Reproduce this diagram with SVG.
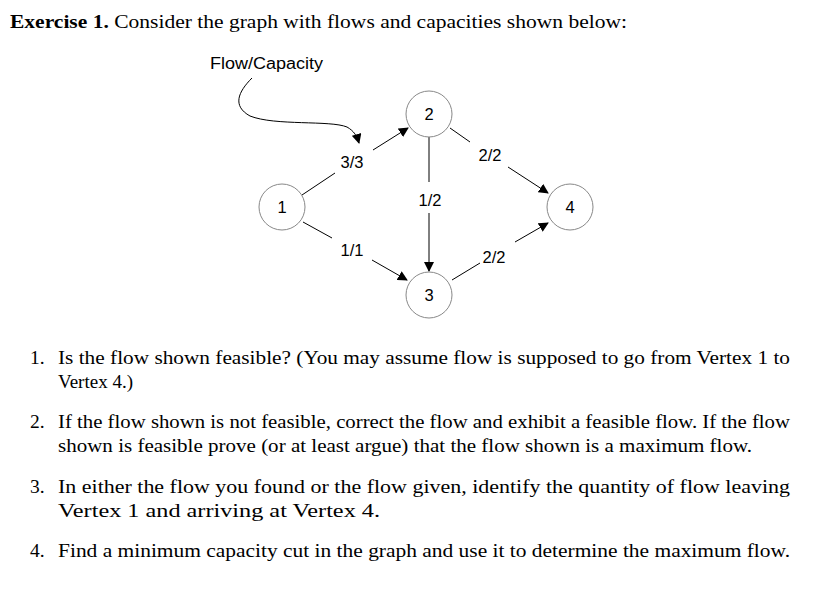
<svg xmlns="http://www.w3.org/2000/svg" width="826" height="600" viewBox="0 0 826 600">
<defs>
<marker id="ah" viewBox="0 0 10 10" refX="9" refY="5" markerWidth="10" markerHeight="10" markerUnits="userSpaceOnUse" orient="auto"><path d="M0,0 L10,5 L0,10 z" fill="#000"/></marker>
<style>
.t{font-family:"Liberation Serif",serif;font-size:19.5px;fill:#000}
.s{font-family:"Liberation Sans",Arial,sans-serif;font-size:16.5px;fill:#000;text-anchor:middle}
.n{fill:#fff;stroke:#888;stroke-width:1}
.e{stroke:#000;stroke-width:1;fill:none}
</style>
</defs>
<rect width="826" height="600" fill="#fff"/>
<text class="t" x="10" y="28" textLength="617" lengthAdjust="spacingAndGlyphs"><tspan font-weight="bold">Exercise 1.</tspan> Consider the graph with flows and capacities shown below:</text>
<text x="210" y="69" style="font-family:'Liberation Sans',Arial,sans-serif;font-size:16px" textLength="113" lengthAdjust="spacingAndGlyphs">Flow/Capacity</text>
<g id="connectors">
<path class="e" d="M252,78 C238,92 232,106 250,116 C275,126 330,120 347,127 C354,131 357,136 359,143" marker-end="url(#ah)"/>
<line class="e" x1="302" y1="195" x2="335" y2="173"/>
<line class="e" x1="373" y1="150" x2="408" y2="128" marker-end="url(#ah)"/>
<line class="e" x1="450" y1="128" x2="470" y2="142"/>
<line class="e" x1="508" y1="167" x2="548" y2="193" marker-end="url(#ah)"/>
<line class="e" x1="429" y1="137" x2="429" y2="182"/>
<line class="e" x1="429" y1="213" x2="429" y2="271" marker-end="url(#ah)"/>
<line class="e" x1="303" y1="222" x2="332" y2="238"/>
<line class="e" x1="372" y1="260" x2="407" y2="280" marker-end="url(#ah)"/>
<line class="e" x1="452" y1="280" x2="480" y2="263"/>
<line class="e" x1="515" y1="242" x2="548" y2="223" marker-end="url(#ah)"/>
<text class="s" x="352" y="168">3/3</text>
<text class="s" x="490" y="161">2/2</text>
<text class="s" x="430" y="206">1/2</text>
<text class="s" x="352" y="256">1/1</text>
<text class="s" x="494" y="263">2/2</text>
</g>
<g id="n1"><circle class="n" cx="282" cy="207" r="23"/><text class="s" x="282" y="213">1</text></g>
<g id="n2"><circle class="n" cx="429" cy="114" r="23"/><text class="s" x="429" y="120">2</text></g>
<g id="n3"><circle class="n" cx="429" cy="295" r="23"/><text class="s" x="429" y="301">3</text></g>
<g id="n4"><circle class="n" cx="570" cy="207" r="23"/><text class="s" x="570" y="213">4</text></g>
<text class="t" x="30" y="364">1.</text>
<text class="t" x="58" y="364" textLength="732" lengthAdjust="spacingAndGlyphs">Is the flow shown feasible? (You may assume flow is supposed to go from Vertex 1 to</text>
<text class="t" x="58" y="388" textLength="75" lengthAdjust="spacingAndGlyphs">Vertex 4.)</text>
<text class="t" x="30" y="428">2.</text>
<text class="t" x="58" y="428" textLength="732" lengthAdjust="spacingAndGlyphs">If the flow shown is not feasible, correct the flow and exhibit a feasible flow. If the flow</text>
<text class="t" x="58" y="452" textLength="694" lengthAdjust="spacingAndGlyphs">shown is feasible prove (or at least argue) that the flow shown is a maximum flow.</text>
<text class="t" x="30" y="493">3.</text>
<text class="t" x="58" y="493" textLength="732" lengthAdjust="spacingAndGlyphs">In either the flow you found or the flow given, identify the quantity of flow leaving</text>
<text class="t" x="58" y="517" textLength="322" lengthAdjust="spacingAndGlyphs">Vertex 1 and arriving at Vertex 4.</text>
<text class="t" x="30" y="557">4.</text>
<text class="t" x="58" y="557" textLength="732" lengthAdjust="spacingAndGlyphs">Find a minimum capacity cut in the graph and use it to determine the maximum flow.</text>
</svg>
